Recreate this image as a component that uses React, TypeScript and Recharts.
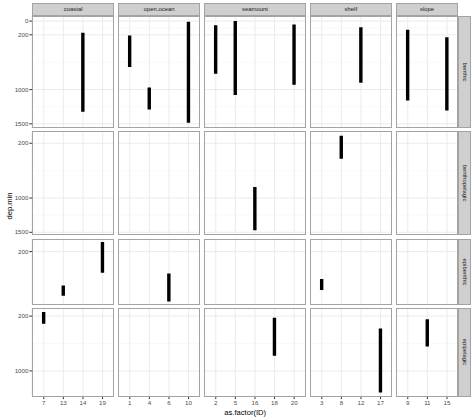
import { Bar, BarChart, CartesianGrid, XAxis, YAxis } from 'recharts';

// facet columns / rows
const HABITATS = ['coastal', 'open.ocean', 'seamount', 'shelf', 'slope'];
const ZONES = ['benthic', 'benthopelagic', 'epibenthic', 'epipelagic'];
const Y_BREAKS = [0, 200, 1000, 1500];

// one depth range per species ID
const ids = ['1', '2', '3', '4', '5', '6', '7', '8', '9', '10', '11', '12', '13', '14', '15', '16', '17', '18', '19', '20'];
const habitat = ['open.ocean', 'seamount', 'shelf', 'open.ocean', 'seamount', 'open.ocean', 'coastal', 'shelf', 'slope', 'open.ocean',
  'slope', 'shelf', 'coastal', 'coastal', 'slope', 'seamount', 'shelf', 'seamount', 'coastal', 'seamount'];
const zone = ['benthic', 'benthic', 'epibenthic', 'benthic', 'benthic', 'epibenthic', 'epipelagic', 'benthopelagic', 'benthic', 'benthic',
  'epipelagic', 'benthic', 'epibenthic', 'benthic', 'benthic', 'benthopelagic', 'epipelagic', 'epipelagic', 'epibenthic', 'benthic'];
const depMin = [210, 60, 600, 970, 0, 520, 140, 90, 125, 10, 245, 90, 695, 170, 235, 840, 380, 225, 60, 50];
const depMax = [670, 770, 760, 1290, 1080, 930, 310, 425, 1160, 1485, 645, 900, 845, 1325, 1305, 1470, 1315, 780, 510, 930];

const FONT = '"Liberation Sans", Arial, sans-serif';
const PLOT_LEFT = 32;
const PLOT_TOP = 15.7;
const STRIP = 12.4;
const UNIT = 19.6; // px per category
const GAP = 3.7;
const K = 0.0685; // px per metre
const BORDER = '#A3A3A3';
const GRID = '#EBEBEB';

const colIds = HABITATS.map((h) =>
  ids.filter((_, i) => habitat[i] === h).sort((a, b) => Number(a) - Number(b)),
);

const rowDomains = ZONES.map((z) => {
  const idx = ids.map((_, i) => i).filter((i) => zone[i] === z);
  const lo = Math.min(...idx.map((i) => depMin[i]));
  const hi = Math.max(...idx.map((i) => depMax[i]));
  const pad = (hi - lo) * 0.05;
  return [lo - pad, hi + pad] as [number, number];
});

function minorBreaks([lo, hi]: [number, number]) {
  let b = Y_BREAKS.filter((v) => v >= lo && v <= hi);
  if (b.length < 2) return [];
  if (b[0] > lo) b = [b[0] - (b[1] - b[0]), ...b];
  const n = b.length;
  if (b[n - 1] < hi) b = [...b, b[n - 1] + (b[n - 1] - b[n - 2])];
  const out: number[] = [];
  for (let i = 0; i < b.length - 1; i++) out.push((b[i] + b[i + 1]) / 2);
  return out.filter((v) => v > lo && v < hi);
}

const colW = colIds.map((c) => (c.length + 0.2) * UNIT);
const colX = colW.map((_, i) => PLOT_LEFT + colW.slice(0, i).reduce((s, w) => s + w + GAP, 0));
const rowH = rowDomains.map(([lo, hi]) => (hi - lo) * K);
const rowY = rowH.map((_, i) => PLOT_TOP + rowH.slice(0, i).reduce((s, h) => s + h + GAP, 0));
const plotRight = colX[colX.length - 1] + colW[colW.length - 1];
const plotBottom = rowY[rowY.length - 1] + rowH[rowH.length - 1];

function Panel({ r, c }: { r: number; c: number }) {
  const z = ZONES[r];
  const h = HABITATS[c];
  const data = colIds[c].map((id) => {
    const i = ids.indexOf(id);
    return { id, range: zone[i] === z && habitat[i] === h ? [depMin[i], depMax[i]] : null };
  });
  const domain = rowDomains[r];
  const showY = c === 0;
  const showX = r === ZONES.length - 1;
  const left = showY ? PLOT_LEFT : 0;
  const bottom = showX ? 12 : 0;
  const ticks = Y_BREAKS.filter((v) => v >= domain[0] && v <= domain[1]);
  const minors = minorBreaks(domain);
  return (
    <>
      <div style={{ position: 'absolute', left: colX[c] - left, top: rowY[r] }}>
        <BarChart width={colW[c] + left} height={rowH[r] + bottom} data={data} margin={{ top: 0, right: 0, bottom: 0, left: 0 }}>
          <CartesianGrid vertical={false} horizontalValues={minors.length ? minors : [-1e6]} stroke="#F5F5F5" strokeWidth={0.6} />
          <CartesianGrid vertical horizontalValues={ticks} stroke={GRID} strokeWidth={1} />
          <XAxis
            dataKey="id"
            type="category"
            hide={!showX}
            height={bottom}
            padding={{ left: 0.1 * UNIT, right: 0.1 * UNIT }}
            axisLine={false}
            tickSize={2.6}
            tickMargin={1}
            tickLine={{ stroke: '#333' }}
            tick={{ fontSize: 6.2, fill: '#4D4D4D' }}
            interval={0}
          />
          <YAxis
            type="number"
            domain={domain}
            reversed
            allowDataOverflow
            hide={!showY}
            width={left}
            ticks={ticks}
            interval={0}
            axisLine={false}
            tickSize={2.6}
            tickMargin={1}
            tickLine={{ stroke: '#333' }}
            tick={{ fontSize: 6.2, fill: '#4D4D4D' }}
          />
          <Bar dataKey="range" fill="#000" barSize={3.4} isAnimationActive={false} />
        </BarChart>
      </div>
      <div
        style={{
          position: 'absolute', left: colX[c], top: rowY[r], width: colW[c], height: rowH[r],
          border: `1px solid ${BORDER}`, boxSizing: 'border-box', pointerEvents: 'none',
        }}
      />
    </>
  );
}

export default function App() {
  return (
    <div style={{ position: 'absolute', left: 0, top: 0, width: 474, height: 420, background: '#fff', fontFamily: FONT, overflow: 'hidden' }}>
      {HABITATS.map((h, c) => (
        <div
          key={h}
          style={{
            position: 'absolute', left: colX[c], top: PLOT_TOP - STRIP, width: colW[c], height: STRIP,
            background: '#CFCFCF', border: `1px solid ${BORDER}`, boxSizing: 'border-box',
            fontSize: 5.9, color: '#1A1A1A', textAlign: 'center', lineHeight: `${STRIP - 2}px`,
          }}
        >
          {h}
        </div>
      ))}
      {ZONES.map((z, r) => (
        <div
          key={z}
          style={{
            position: 'absolute', left: plotRight, top: rowY[r], width: STRIP, height: rowH[r],
            background: '#CFCFCF', border: `1px solid ${BORDER}`, boxSizing: 'border-box',
          }}
        >
          <div
            style={{
              position: 'absolute', left: '50%', top: '50%', transform: 'translate(-50%, -50%) rotate(90deg)',
              fontSize: 5.9, color: '#1A1A1A', whiteSpace: 'nowrap',
            }}
          >
            {z}
          </div>
        </div>
      ))}
      {ZONES.map((_, r) => HABITATS.map((_, c) => <Panel key={`${r}-${c}`} r={r} c={c} />))}
      <div
        style={{
          position: 'absolute', left: PLOT_LEFT, width: plotRight - PLOT_LEFT, top: plotBottom + 11,
          textAlign: 'center', fontSize: 7.6, color: '#000',
        }}
      >
        as.factor(ID)
      </div>
      <div
        style={{
          position: 'absolute', left: 9, top: (PLOT_TOP + plotBottom) / 2,
          transform: 'translate(-50%, -50%) rotate(-90deg)', fontSize: 7.6, color: '#000', whiteSpace: 'nowrap',
        }}
      >
        dep.min
      </div>
    </div>
  );
}
